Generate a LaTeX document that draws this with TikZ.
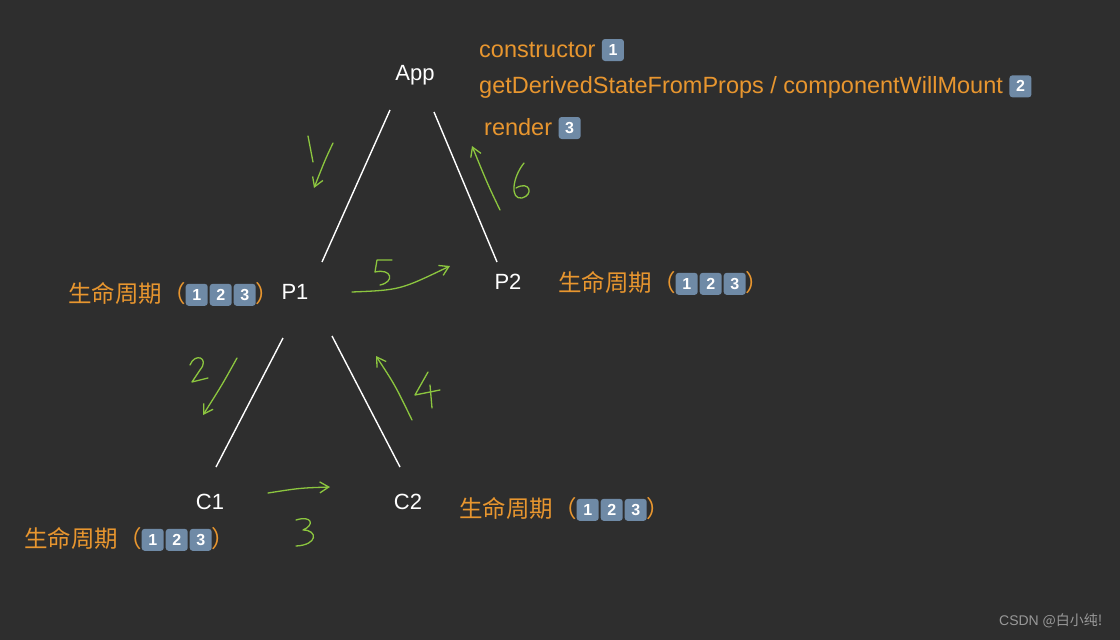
\documentclass[tikz,border=0pt]{standalone}
\usepackage{fontspec}
\setmainfont{Liberation Sans}
\newfontfamily\cjk{Noto Sans CJK SC}
\usetikzlibrary{arrows.meta}
\definecolor{bg}{HTML}{2E2E2E}
\definecolor{org}{HTML}{E8962F}
\definecolor{keyb}{HTML}{6F8AA6}
\definecolor{hand}{HTML}{8CC63F}
\newcommand{\kc}[1]{\tikz[baseline=-0.6ex]\node[fill=keyb,rounded corners=3pt,text=white,font=\fontsize{16}{16}\selectfont\bfseries,minimum size=22pt,inner sep=0pt]{#1};}
\newcommand{\kcs}{\kc{1}\hspace{2pt}\kc{2}\hspace{2pt}\kc{3}}
\begin{document}
\begin{tikzpicture}[x=1pt,y=-1pt,
  lbl/.style={text=white,font=\fontsize{22}{26}\selectfont},
  otxt/.style={text=org,font=\fontsize{23.5}{28}\selectfont,anchor=west,inner sep=0pt},
  edge/.style={white,line width=1.4pt},
  hw/.style={hand,line width=1.3pt,line cap=round,line join=round},
  hwa/.style={hw,-{Straight Barb[length=9pt,width=11pt]}}]
\fill[bg] (0,0) rectangle (1120,640);
\useasboundingbox (0,0) rectangle (1120,640);
\node[lbl] (app) at (415,75) {App};
\node[lbl] (p1) at (295,292) {P1};
\node[lbl] (p2) at (508,282) {P2};
\node[lbl] (c1) at (210,502) {C1};
\node[lbl] (c2) at (408,502) {C2};
\coordinate (a1) at (390,110); \coordinate (p1t) at (322,262);
\coordinate (a2) at (434,112); \coordinate (p2t) at (497,262);
\coordinate (p1a) at (283,338); \coordinate (c1t) at (216,467);
\coordinate (p1b) at (332,336); \coordinate (c2t) at (400,467);
\draw[edge] (a1) -- (p1t);
\draw[edge] (a2) -- (p2t);
\draw[edge] (p1a) -- (c1t);
\draw[edge] (p1b) -- (c2t);
\node[otxt] (t1) at (479,50) {constructor \kc{1}};
\node[otxt] (t2) at (479,87) {getDerivedStateFromProps / componentWillMount \kc{2}};
\node[otxt] (t3) at (484,128) {render \kc{3}};
\node[otxt] (l1) at (68,294) {{\cjk 生命周期（}\kcs{\cjk ）}};
\node[otxt] (l2) at (558,283) {{\cjk 生命周期（}\kcs{\cjk ）}};
\node[otxt] (l3) at (459,509) {{\cjk 生命周期（}\kcs{\cjk ）}};
\node[otxt] (l4) at (24,539) {{\cjk 生命周期（}\kcs{\cjk ）}};
% hand-drawn arrows
\coordinate (h1s) at (333,143); \coordinate (h1e) at (314,188);
\draw[hwa] (h1s) .. controls (325,160) .. (h1e);
\draw[hw] (308,136) -- (313,162);
\coordinate (h6s) at (500,210); \coordinate (h6e) at (472,146);
\draw[hwa] (h6s) .. controls (488,185) .. (h6e);
\draw[hw] (524,163) .. controls (512,178) and (510,200) .. (522,198) .. controls (534,195) and (530,180) .. (516,188);
\coordinate (h5s) at (352,292); \coordinate (h5e) at (450,266);
\draw[hwa] (h5s) .. controls (400,290) .. (h5e);
\draw[hw] (392,260) -- (377,260) -- (375,272) .. controls (392,268) and (395,282) .. (380,285);
\coordinate (h2s) at (237,358); \coordinate (h2e) at (203,415);
\draw[hwa] (h2s) .. controls (222,385) .. (h2e);
\draw[hw] (190,365) .. controls (195,352) and (210,358) .. (200,370) -- (192,382) -- (208,378);
\coordinate (h4s) at (412,420); \coordinate (h4e) at (376,356);
\draw[hwa] (h4s) .. controls (395,385) .. (h4e);
\draw[hw] (428,372) -- (415,395) -- (440,390);
\draw[hw] (430,385) -- (432,408);
\coordinate (h3s) at (268,493); \coordinate (h3e) at (330,487);
\draw[hwa] (h3s) .. controls (300,488) .. (h3e);
\draw[hw] (296,520) .. controls (312,515) and (315,525) .. (303,530) .. controls (318,530) and (318,545) .. (296,546);
\node[text=gray!80,font=\fontsize{14}{14}\selectfont,anchor=east] (wm) at (1106,621) {CSDN {\cjk @白小纯!}};
\end{tikzpicture}
\end{document}
